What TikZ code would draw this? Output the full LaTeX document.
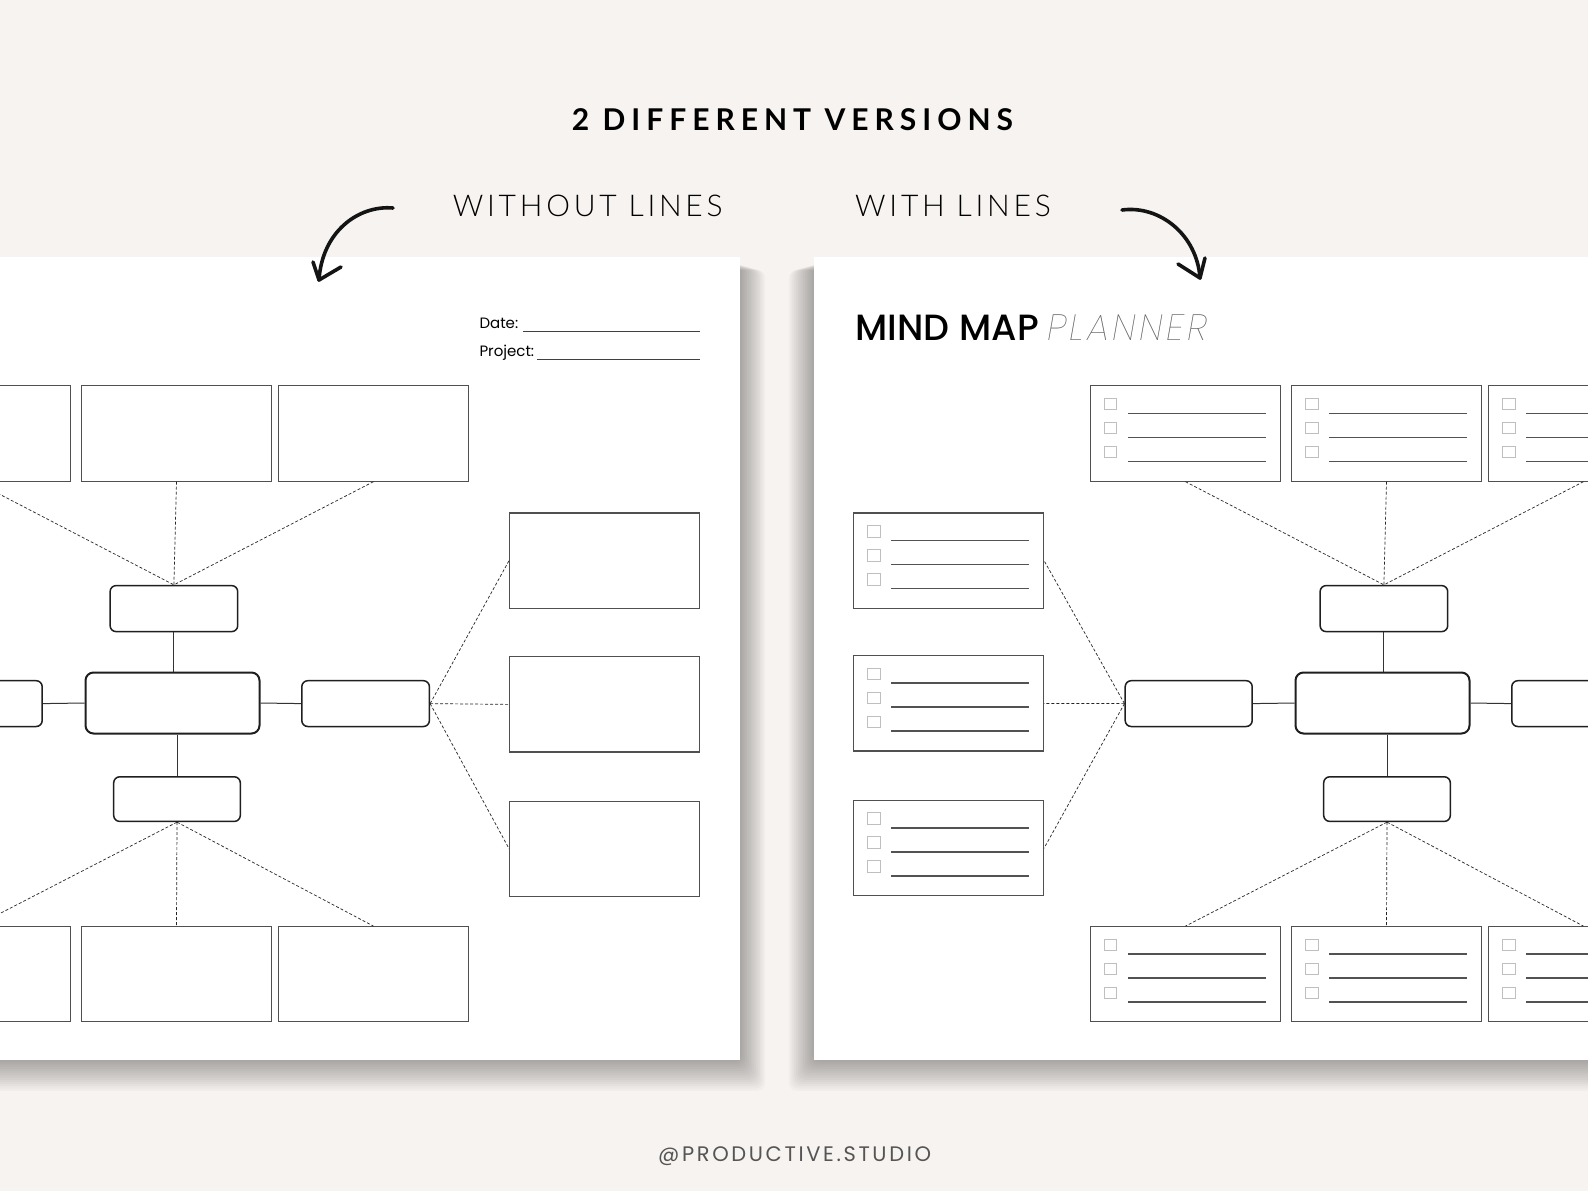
\documentclass[tikz,border=0pt]{standalone}
\usepackage{fontspec}
\definecolor{bg}{RGB}{246,243,240}
\definecolor{boxgray}{RGB}{80,80,80}
\definecolor{footgray}{RGB}{85,85,85}
\definecolor{plgray}{RGB}{95,95,95}
\IfFontExistsTF{Lato Light}{\newfontfamily\lightfont{Lato Light}[LetterSpace=12.5]}{\newfontfamily\lightfont{Lato}[LetterSpace=12.5]}
\newfontfamily\titlefont{Lato}[LetterSpace=20]
\IfFontExistsTF{Poppins Medium}{\newfontfamily\mmfont{Poppins Medium}[LetterSpace=0.5]}{\newfontfamily\mmfont{Poppins}[LetterSpace=0.5]}
\IfFontExistsTF{Poppins Thin Italic}{\newfontfamily\thinit{Poppins Thin Italic}[LetterSpace=9]}{\newfontfamily\thinit{Poppins}[LetterSpace=9]}
\newfontfamily\datefont{Poppins}
\newfontfamily\footfont{Poppins}[LetterSpace=12.5]
\tikzset{
  listbox/.style={draw=boxgray, line width=1.1pt, minimum width=190pt, minimum height=95.2pt, inner sep=0pt, fill=white},
  rbox/.style={draw=black!88, line width=1.5pt, rounded corners=6pt, inner sep=0pt, fill=white},
  cbox/.style={rbox, line width=2pt, rounded corners=8pt},
  dashline/.style={line width=0.7pt, dash pattern=on 3pt off 2pt, draw=black!85},
  solidline/.style={line width=1pt, draw=black!80},
  chk/.style={draw=black!25, line width=0.9pt},
  ruleline/.style={draw=black!68, line width=1.4pt},
  fieldline/.style={draw=black!75, line width=1.1pt},
  arrowstroke/.style={line width=3.6pt, line cap=round, line join=round, draw=black!92},
  txt/.style={anchor=base west, inner sep=0pt}
}
\newcommand\plainbox[3]{\node[listbox] (#1) at (#2,#3) {};}
\newcommand\linedbox[3]{\node[listbox] (#1) at (#2,#3) {};
  \foreach \k in {0,1,2}{
    \draw[chk] (#2-80.7, #3-35.3+24*\k) rectangle ++(12.2,11.7);
    \draw[ruleline] (#2-57.4, #3-20.3+24*\k) -- (#2+80.3, #3-20.3+24*\k);
  }}
\newcommand\pageshadow[4]{%
  \foreach \i in {1,...,14}{
    \fill[black, opacity=0.022, rounded corners=8pt] (#1-1.8*\i, #2+6+0.5*\i) rectangle (#3+1.8*\i, #4+2.2*\i);
  }}
\newcommand\mmpage[3]{%
\begin{scope}[shift={(#2,0)}]
  \node[txt, font=\mmfont\fontsize{36.5}{40}\selectfont] (#1mm) at (-527,340) {MIND MAP};
  \node[txt, text=plgray, font=\thinit\fontsize{36.5}{40}\selectfont] (#1pl) at (-335,340) {PLANNER};
  \node[txt, font=\datefont\fontsize{15}{18}\selectfont] (#1date) at (307.3,328.3) {Date:};
  \draw[fieldline] (351.3,331.7) -- (528,331.7);
  \node[txt, font=\datefont\fontsize{15}{18}\selectfont] (#1proj) at (307.3,356) {Project:};
  \draw[fieldline] (365.3,359.3) -- (528,359.3);
  % boxes
  #3{#1tA}{-196.6}{433.5} #3{#1tB}{4.5}{433.5} #3{#1tC}{201.5}{433.5}
  #3{#1bA}{-196.6}{974.3} #3{#1bB}{4.5}{974.3} #3{#1bC}{201.5}{974.3}
  #3{#1lc1}{-433.5}{560.6} #3{#1lc2}{-433.5}{703.4} #3{#1lc3}{-433.5}{848.2}
  #3{#1rc1}{432.6}{560.6} #3{#1rc2}{432.6}{704.4} #3{#1rc3}{432.6}{848.7}
  \node[rbox, minimum width=127.6pt, minimum height=46pt] (#1hT) at (1.9,608.6) {};
  \node[cbox, minimum width=174pt, minimum height=61pt] (#1C) at (0.5,703) {};
  \node[rbox, minimum width=127pt, minimum height=45.8pt] (#1mL) at (-193.3,703.6) {};
  \node[rbox, minimum width=127.6pt, minimum height=45.8pt] (#1mR) at (193.6,703.6) {};
  \node[rbox, minimum width=126.6pt, minimum height=44.6pt] (#1hB) at (5,799.1) {};
  % connectors
  \draw[dashline] (#1tA.south) -- (#1hT.north);
  \draw[dashline] (#1tB.south) -- (#1hT.north);
  \draw[dashline] (#1tC.south) -- (#1hT.north);
  \draw[dashline] (#1hB.south) -- (#1bA.north);
  \draw[dashline] (#1hB.south) -- (#1bB.north);
  \draw[dashline] (#1hB.south) -- (#1bC.north);
  \draw[dashline] (#1mL.west) -- (#1lc1.east);
  \draw[dashline] (#1mL.west) -- (#1lc2.east);
  \draw[dashline] (#1mL.west) -- (#1lc3.east);
  \draw[dashline] (#1mR.east) -- (#1rc1.west);
  \draw[dashline] (#1mR.east) -- (#1rc2.west);
  \draw[dashline] (#1mR.east) -- (#1rc3.west);
  \draw[solidline] (#1hT.south) -- (#1hT.south |- #1C.north);
  \draw[solidline] (#1hB.north |- #1C.south) -- (#1hB.north);
  \draw[solidline] (#1C.west) -- (#1mL.east);
  \draw[solidline] (#1C.east) -- (#1mR.west);
\end{scope}}
\begin{document}
\begin{tikzpicture}[x=1pt,y=-1pt]
\useasboundingbox (0,0) rectangle (1588,1191);
\fill[bg] (0,0) rectangle (1588,1191);
\pageshadow{-396}{257}{740}{1060}
\pageshadow{814}{257}{1950}{1060}
\fill[white] (-396,257) rectangle (740,1060);
\fill[white] (814,257) rectangle (1950,1060);
\mmpage{L}{172}{\plainbox}
\mmpage{R}{1382}{\linedbox}
% headings
\node[txt, font=\titlefont\bfseries\fontsize{30}{36}\selectfont] (title) at (571.7,130) {2 DIFFERENT VERSIONS};
\node[txt, font=\lightfont\fontsize{30}{36}\selectfont] (wo) at (452.7,216.7) {WITHOUT LINES};
\node[txt, font=\lightfont\fontsize{30}{36}\selectfont] (wl) at (855,216.7) {WITH LINES};
\node[txt, text=footgray, font=\footfont\fontsize{21}{25}\selectfont] (foot) at (658,1161) {@PRODUCTIVE.STUDIO};
% arrows
\coordinate (las) at (393,208);
\coordinate (lat) at (319,280);
\coordinate (la1) at (313,262);
\coordinate (la2) at (341,267);
\draw[arrowstroke] (las) .. controls (358,205) and (322,232) .. (lat);
\draw[arrowstroke] (la1) -- (lat) -- (la2);
\coordinate (ras) at (1122,210);
\coordinate (rat) at (1200,278);
\coordinate (ra1) at (1178,264);
\coordinate (ra2) at (1205,258);
\draw[arrowstroke] (ras) .. controls (1160,205) and (1197,235) .. (rat);
\draw[arrowstroke] (ra1) -- (rat) -- (ra2);
\end{tikzpicture}
\end{document}
